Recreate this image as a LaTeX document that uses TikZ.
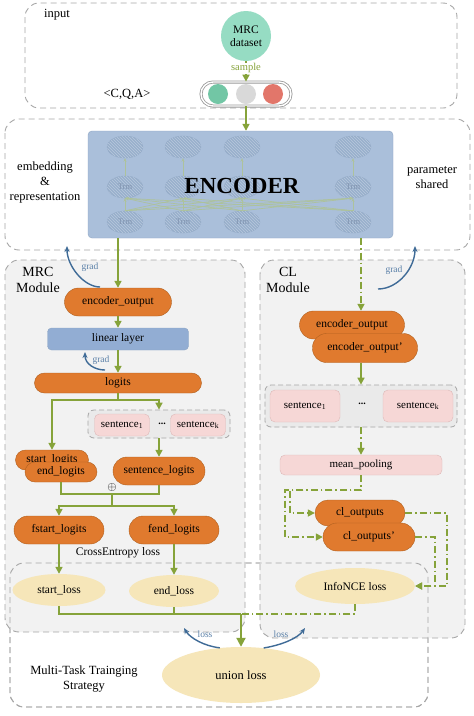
\documentclass[tikz,border=0pt]{standalone}
\usepackage{fontspec}
\setmainfont{Liberation Serif}
\usetikzlibrary{arrows.meta,shapes.geometric,patterns}

\definecolor{arrgreen}{HTML}{86A33A}
\definecolor{gradblue}{HTML}{3F6B97}
\definecolor{gradtext}{HTML}{5A80A8}
\definecolor{orfill}{HTML}{E07A2E}
\definecolor{orline}{HTML}{B0601F}
\definecolor{pinkfill}{HTML}{F6D7D6}
\definecolor{pinkline}{HTML}{DDB9B8}
\definecolor{lossfill}{HTML}{F6E6B9}
\definecolor{encfill}{HTML}{AABFDA}
\definecolor{encline}{HTML}{8EA6C4}
\definecolor{linfill}{HTML}{92ADD3}
\definecolor{modfill}{HTML}{F2F2F2}
\definecolor{grpfill}{HTML}{EAEAEA}
\definecolor{dashgray}{HTML}{A6A6A6}
\definecolor{tealfill}{HTML}{96DCC3}
\definecolor{dotteal}{HTML}{72C6A5}
\definecolor{dotsalmon}{HTML}{E2766A}
\definecolor{tmfill}{HTML}{98AFCC}
\definecolor{tmhatch}{HTML}{B8C8DD}
\definecolor{tmline}{HTML}{93AAC7}
\definecolor{tmtext}{HTML}{7F92AE}
\definecolor{tmlinkc}{HTML}{ADC29C}

\tikzset{
  region/.style={draw=dashgray, dash pattern=on 6pt off 4pt, rounded corners=14pt, line width=0.9pt},
  module/.style={region, fill=modfill},
  grp/.style={draw=dashgray, dash pattern=on 5pt off 3pt, fill=grpfill, rounded corners=6pt, line width=0.8pt, inner sep=0pt},
  orcap/.style={draw=orline, fill=orfill, inner sep=0pt, font=\fontsize{11.5}{12}\selectfont},
  pinkbox/.style={draw=pinkline, fill=pinkfill, rounded corners=5pt, inner sep=0pt, font=\fontsize{11}{12}\selectfont},
  lossell/.style={ellipse, fill=lossfill, inner sep=0pt, font=\fontsize{11.5}{12}\selectfont},
  tm/.style={ellipse, minimum width=36pt, minimum height=22pt, inner sep=0pt, fill=tmfill, draw=tmline, line width=0.4pt,
    postaction={pattern=north west lines, pattern color=tmhatch}, font=\fontsize{8.5}{9}\selectfont, text=tmtext},
  tmlink/.style={tmlinkc, line width=0.7pt, -{Stealth[length=3.5pt,width=3pt]}},
  gline/.style={arrgreen, line width=1.6pt},
  flow/.style={gline, -{Triangle[length=7pt,width=7pt]}},
  clline/.style={gline, dash pattern=on 7pt off 3pt on 1.5pt off 3pt},
  clflow/.style={clline, -{Triangle[length=7pt,width=7pt]}},
  grad/.style={gradblue, line width=1.4pt, -{Stealth[length=6pt,width=5pt]}},
  gradlabel/.style={text=gradtext, font=\fontsize{9.5}{10}\selectfont},
  txt/.style={font=\fontsize{11.5}{13.5}\selectfont, align=center},
  sidetxt/.style={font=\fontsize{12.5}{15}\selectfont, align=center}
}

\begin{document}
\begin{tikzpicture}[x=1pt,y=-1pt]
\useasboundingbox (0,0) rectangle (474,716);

% regions
\draw[region, fill=white] (25,3) rectangle (457,108);
\draw[region, fill=white] (5,119) rectangle (470,250);
\draw[region, fill=white] (10,563) rectangle (428,707);
\draw[module] (5,260) rectangle (245,632);
\draw[module] (260,260) rectangle (465,638);
\draw[region] (10,563) rectangle (428,707);

% input
\node[sidetxt] (inputlabel) at (57,15) {input};
\node[circle, fill=tealfill, minimum size=50pt, inner sep=0pt, txt] (data) at (246,36) {MRC\\dataset};
\node[draw=gray!80, double=white, double distance=1.4pt, line width=0.8pt, rounded corners=12pt,
  minimum width=90pt, minimum height=24pt] (sample) at (246,94) {};
\node[circle, fill=dotteal, minimum size=20pt] (cdot) at (218,94) {};
\node[circle, fill=gray!30, minimum size=20pt] (qdot) at (246,94) {};
\node[circle, fill=dotsalmon, minimum size=20pt] (adot) at (273,94) {};
\node[sidetxt] (cqa) at (127,94) {<C,Q,A>};
\draw[flow] (data) -- node[pos=0.35, fill=white, inner sep=1pt, text=arrgreen, font=\fontsize{10.5}{11}\selectfont] {sample} (sample);

% encoder
\node[draw=encline, fill=encfill, rounded corners=4pt, minimum width=305pt, minimum height=107pt] (enc) at (240.5,184.5) {};
\foreach \i/\cx/\mt in {1/125/Trm,2/183/,3/242/,4/353/Trm} {
  \node[tm] (top\i) at (\cx,147) {};
  \node[tm] (mid\i) at (\cx,187) {\mt};
  \node[tm] (bot\i) at (\cx,222) {Trm};
}
\foreach \i in {1,...,4} {
  \draw[tmlink] (mid\i) -- (top\i);
  \foreach \j in {1,...,4}
    \draw[tmlink] (bot\i.north) -- (mid\j.south);
}
\node[font=\bfseries\fontsize{23}{24}\selectfont] (enctext) at (242,186) {ENCODER};
\draw[flow] (sample) -- (enc.north -| sample);
\node[sidetxt] (embtxt) at (45,182) {embedding\\\&\\representation};
\node[sidetxt] (sharetxt) at (432,178) {parameter\\shared};

% MRC module
\node[txt, font=\fontsize{14}{16}\selectfont] (mrclabel) at (38,280) {MRC\\Module};
\node[orcap, minimum width=107pt, minimum height=28pt, rounded corners=14pt] (mencout) at (118,302) {encoder\_output};
\node[draw=encline, fill=linfill, rounded corners=4pt, minimum width=141pt, minimum height=22pt, txt] (linear) at (118,339) {linear layer};
\node[orcap, minimum width=167pt, minimum height=20pt, rounded corners=10pt] (logits) at (118,383) {logits};
\draw[flow] (enc.south -| mencout) -- (mencout);
\draw[flow] (mencout) -- (linear);
\draw[flow] (linear) -- (logits);

\coordinate (split) at (118,400);
\node[grp, minimum width=142pt, minimum height=28pt] (mgrp) at (159,424) {};
\node[pinkbox, minimum width=55pt, minimum height=22pt] (ms1) at (122,425) {sentence\textsubscript{1}};
\node[font=\bfseries] (mdots) at (162,424) {...};
\node[pinkbox, minimum width=55pt, minimum height=22pt] (msk) at (198,425) {sentence\textsubscript{k}};
\node[orcap, minimum width=73pt, minimum height=20pt, rounded corners=10pt] (startlg) at (52,460) {start\_logits};
\node[orcap, minimum width=72pt, minimum height=20pt, rounded corners=10pt] (endlg) at (61,472) {end\_logits};
\node[orcap, minimum width=92pt, minimum height=28pt, rounded corners=14pt] (sentlg) at (159,471) {sentence\_logits};
\draw[gline] (logits.south) -- (split);
\draw[flow] (split) -| (startlg.north);
\draw[flow] (split) -| (mgrp.north);
\draw[flow] (mgrp.south) -- (sentlg.north);

\coordinate (merge) at (112,494);
\coordinate (split2) at (112,506);
\node[inner sep=0pt, font=\large] (oplus) at (112,487) {$\oplus$};
\draw[gline] (endlg.south) |- (merge) -| (sentlg.south);
\draw[gline] (merge) -- (split2);
\node[orcap, minimum width=90pt, minimum height=28pt, rounded corners=14pt] (fstart) at (59,530) {fstart\_logits};
\node[orcap, minimum width=90pt, minimum height=28pt, rounded corners=14pt] (fend) at (174,530) {fend\_logits};
\draw[flow] (split2) -| (fstart.north);
\draw[flow] (split2) -| (fend.north);
\node[txt] (celabel) at (118,553) {CrossEntropy loss};
\node[lossell, minimum width=93pt, minimum height=32pt] (sloss) at (59,590) {start\_loss};
\node[lossell, minimum width=90pt, minimum height=32pt] (eloss) at (174,591) {end\_loss};
\draw[flow] (fstart) -- (sloss);
\draw[flow] (fend) -- (eloss);

% CL module
\node[txt, font=\fontsize{14}{16}\selectfont] (cllabel) at (288,280) {CL\\Module};
\node[grp, minimum width=192pt, minimum height=42pt] (cgrp) at (361,406) {};
\node[orcap, minimum width=105pt, minimum height=28pt, rounded corners=14pt] (cencout) at (352,325) {encoder\_output};
\node[orcap, minimum width=105pt, minimum height=29pt, rounded corners=14pt] (cencout2) at (365,348) {encoder\_output'};
\node[pinkbox, minimum width=70pt, minimum height=32pt] (cs1) at (305,406) {sentence\textsubscript{1}};
\node[font=\bfseries] (cdots) at (362,404) {...};
\node[pinkbox, minimum width=70pt, minimum height=32pt] (csk) at (418,406) {sentence\textsubscript{k}};
\draw[clflow] (enc.south -| cgrp.north) -- (cencout.north -| cgrp.north);
\draw[flow] (cencout2.south -| cgrp.north) -- (cgrp.north);
\node[pinkbox, minimum width=162pt, minimum height=20pt] (pool) at (361,465) {mean\_pooling};
\draw[clflow] (cgrp.south) -- (pool.north);

\node[orcap, minimum width=90pt, minimum height=26pt, rounded corners=13pt] (clout) at (360,513) {cl\_outputs};
\node[orcap, minimum width=92pt, minimum height=28pt, rounded corners=14pt] (clout2) at (369,537) {cl\_outputs'};
\coordinate (plA) at (290,490);
\coordinate (plB) at (285,490);
\draw[clflow] (pool.south) |- (plA) |- (clout.west);
\draw[clflow] (pool.south) |- (plB) |- (clout2.west);
\node[lossell, minimum width=120pt, minimum height=36pt] (info) at (355,586) {InfoNCE loss};
\coordinate (crA) at (447,513);
\coordinate (crB) at (435,537);
\draw[clflow] (clout.east) -- (crA) |- (info.east);
\draw[clflow] (clout2.east) -- (crB) |- (info.east);

% union loss
\node[lossell, minimum width=158pt, minimum height=56pt, font=\fontsize{12.5}{13}\selectfont] (union) at (241,675) {union loss};
\coordinate (jn) at (241,614);
\draw[gline] (sloss.south) |- (jn);
\draw[gline] (eloss.south) -- (eloss.south |- jn);
\draw[clline] (info.south) |- (jn);
\draw[flow, line width=2pt, -{Triangle[length=9pt,width=9pt]}] (jn) -- (union.north);
\node[sidetxt] (mtlabel) at (84,679) {Multi-Task Trainging\\Strategy};

% grad and loss arrows
\coordinate (gl0) at (100,287);
\coordinate (gl1) at (67,246);
\draw[grad] (gl0) .. controls (84,287) and (67,266) .. (gl1);
\node[gradlabel] (gllabel) at (90,267) {grad};
\coordinate (gr0) at (378,289);
\coordinate (gr1) at (415,246);
\draw[grad] (gr0) .. controls (398,289) and (415,268) .. (gr1);
\node[gradlabel] (grlabel) at (394,270) {grad};
\coordinate (gs0) at (105,370);
\coordinate (gs1) at (85,352);
\draw[grad] (gs0) .. controls (95,370) and (85,364) .. (gs1);
\node[gradlabel] (gslabel) at (101,360) {grad};
\coordinate (ll1) at (184,628);
\draw[grad] (union.128) .. controls (204,646) and (190,638) .. (ll1);
\node[gradlabel] (lllabel) at (205,634) {loss};
\coordinate (lr1) at (305,628);
\draw[grad] (union.50) .. controls (282,645) and (298,638) .. (lr1);
\node[gradlabel] (lrlabel) at (281,634) {loss};
\end{tikzpicture}
\end{document}
